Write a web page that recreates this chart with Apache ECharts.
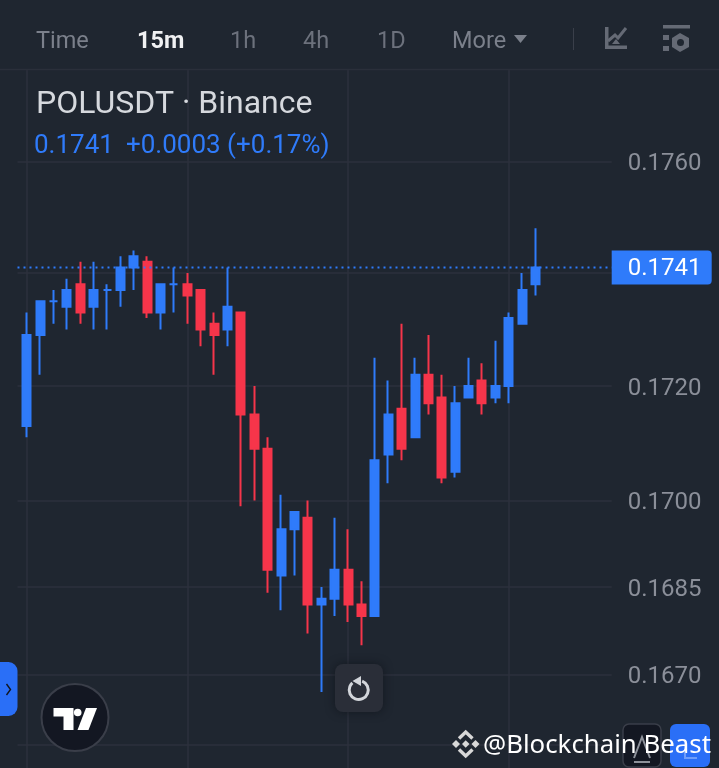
<!DOCTYPE html>
<html><head><meta charset="utf-8">
<style>html,body{margin:0;padding:0;background:#1f2630}#c{width:719px;height:768px}</style>
<script src="https://cdn.jsdelivr.net/npm/echarts@6/dist/echarts.min.js"></script>
</head><body><div id="c"></div>
<script>
const opens  = [.1713,.1729,.1735,.1734,.1738,.1734,.1737,.1737,.1741,.1742,.1733,.1738,.1738,.1737,.1731,.1730,.1733,.1715,.1709,.1687,.1695,.1697,.1682,.1683,.1688,.1682,.1680,.1708,.1716,.1711,.1722,.1718,.1705,.1718,.1721,.1718,.1720,.1731,.1738];
const closes = [.1729,.1735,.1735,.1737,.1733,.1737,.1737,.1741,.1743,.1733,.1738,.1738,.1736,.1730,.1729,.1734,.1715,.1709,.1688,.1695,.1698,.1682,.1683,.1688,.1682,.1680,.1707,.1715,.1709,.1722,.1717,.1704,.1717,.1720,.1717,.1720,.1732,.1737,.1741];
const lows   = [.1711,.1722,.1731,.1730,.1731,.1730,.1730,.1734,.1737,.1732,.1730,.1733,.1731,.1727,.1722,.1727,.1699,.1700,.1684,.1681,.1687,.1677,.1667,.1680,.1679,.1675,.1680,.1703,.1707,.1711,.1715,.1703,.1704,.1718,.1715,.1717,.1717,.1731,.1736];
const highs  = [.1733,.1735,.1737,.1739,.1742,.1742,.1738,.1743,.1744,.1743,.1738,.1741,.1740,.1737,.1733,.1741,.1733,.1720,.1711,.1701,.1698,.1700,.1685,.1697,.1695,.1686,.1725,.1721,.1731,.1725,.1729,.1722,.1720,.1725,.1724,.1728,.1733,.1740,.1748];
const priceTicks = ['0.1760','0.1720','0.1700','0.1685','0.1670'];
const gridPrices = [0.1760,0.1740,0.1720,0.1700,0.1685,0.1670,0.1658];
const lastPrice = 0.1741;
const timeGridIndexes = [0,12,24,36];
const tabs = [['Time',36,'#7b808b',400],['15m',137,'#f0f1f3',700],['1h',230,'#6c717c',400],['4h',303,'#6c717c',400],['1D',377,'#6c717c',400],['More',452,'#7b808b',400]];

const BLUE='#2f7bfa', RED='#f6354a', BG='#1f2630', GRID='#2c313c', FONT='Roboto, sans-serif';
const XMIN=-0.687, XMAX=43.69;
const candles = opens.map((o,i)=>[i,o,closes[i],lows[i],highs[i]]);
const gfx = [];
const txt=(t,x,y,size,fill,weight,font)=>gfx.push({type:'text',z:50,style:{text:t,x,y,fill,font:`${weight||400} ${size}px ${font||FONT}`,textVerticalAlign:'middle'}});
const poly=(pts,fill)=>gfx.push({type:'polygon',z:50,shape:{points:pts},style:{fill}});
const rect=(x,y,w,h,fill,r,stroke)=>gfx.push({type:'rect',z:50,shape:{x,y,width:w,height:h,r:r||0},style:{fill,stroke:stroke||null,lineWidth:stroke?1.5:0}});
const line=(pts,stroke,w,z)=>gfx.push({type:'polyline',z:z||50,shape:{points:pts},style:{stroke,lineWidth:w,fill:null}});

// header
rect(0,0,719,69,BG);
line([[0,69.5],[719,69.5]],'#2a2f3a',1.5);
tabs.forEach(t=>txt(t[0],t[1],42.5,23.5,t[2],t[3]));
poly([[514,35],[527,35],[520.5,43]],'#7b808b');
line([[573.5,28],[573.5,50]],'#3a3f4a',1);
// chart icon
const ic='#656a75';
rect(605,27,3.5,22,ic); rect(605,45.5,22,3.5,ic);
line([[608,41],[615,35],[618,38],[626,28]],ic,3);
poly([[612,44],[616,39],[620,44]],ic);
// settings icon
rect(663,25,27,3.5,ic); rect(663,35,6,5,ic); rect(663,46,6,5,ic);
poly([[680,33],[689,38],[689,47],[680,52],[672,47],[672,38]],ic);
gfx.push({type:'circle',z:51,shape:{cx:680.5,cy:42.5,r:3.5},style:{fill:BG}});
// legend
txt('POLUSDT · Binance',36,105,32,'#d6d9de',400);
txt('0.1741',34,146,26,BLUE,400);
txt('+0.0003 (+0.17%)',126,146,26,BLUE,400);
// left pill
rect(0,662,17.5,54,'#2a6ff7',[0,9,9,0]);
line([[6.5,684],[10.5,689.5],[6.5,695]],'#12161f',1.4);
// TV logo
gfx.push({type:'circle',z:50,shape:{cx:75,cy:717.5,r:33.5},style:{fill:'#131722',stroke:'#3a3e49',lineWidth:2}});
poly([[53.5,708],[73.5,708],[73.5,730],[63.5,730],[63.5,716.5],[53.5,716.5]],'#fff');
gfx.push({type:'circle',z:51,shape:{cx:77.7,cy:712.5,r:3.8},style:{fill:'#fff'}});
poly([[86,708],[97,708],[88.5,730],[77.5,730]],'#fff');
// reload button
gfx.push({type:'rect',z:50,shape:{x:335,y:664,width:48,height:48,r:8},style:{fill:'#2a2e38',shadowBlur:10,shadowColor:'rgba(10,12,18,.55)'}});
gfx.push({type:'arc',z:51,shape:{cx:358.7,cy:690,r:9.5,startAngle:-1.2,endAngle:-2.3,clockwise:true},style:{stroke:'#d2d5da',lineWidth:3,fill:null}});
poly([[361,676],[361,686],[352.5,681]],'#d2d5da');
// bottom right buttons
rect(623,724,38,43,'#131722',6,'#3a3e49');
rect(670,724,40,43,'#2a6ff7',6);
line([[634,758],[642,737],[650,758]],'#8d919a',2);
line([[634,762],[650,762]],'#8d919a',2);
line([[685,740],[685,758],[697,758]],'#6f9dfa',2);
// watermark
const wm='#d8d8d8';
poly([[452,744],[456,740],[460,744],[456,748]],wm);
poly([[471.5,744],[475.5,740],[479.5,744],[475.5,748]],wm);
poly([[462,744],[465.7,740.3],[469.5,744],[465.7,747.8]],wm);
line([[459,738.5],[465.7,732],[472.5,738.5]],wm,3.4);
line([[459,749.5],[465.7,756],[472.5,749.5]],wm,3.4);
txt('@Blockchain Beast',483,746,25.8,'#ffffff',400,'"Noto Sans", sans-serif');

const chart = echarts.init(document.getElementById('c'),null,{renderer:'canvas'});
chart.setOption({
  animation:false, backgroundColor:BG,
  grid:{left:17.5,top:69,right:107.3,bottom:0},
  xAxis:{type:'value',min:XMIN,max:XMAX,axisLine:{show:false},axisLabel:{show:false},
    axisTick:{show:false,customValues:timeGridIndexes},
    splitLine:{show:true,lineStyle:{color:GRID,width:1.5}}},
  yAxis:{type:'log',logBase:10,position:'right',min:0.16541,max:0.17767,axisLine:{show:false},
    axisTick:{show:false,customValues:gridPrices},
    axisLabel:{show:true,margin:16,customValues:priceTicks.map(Number),formatter:v=>Number(v).toFixed(4),color:'#8b8f99',fontSize:24,fontFamily:FONT,lineHeight:24,verticalAlign:'top',padding:[-9,0,0,0]},
    splitLine:{show:true,lineStyle:{color:GRID,width:1.5}}},
  series:[
   {type:'candlestick',data:candles,encode:{x:0,y:[1,2,3,4]},barWidth:8.5,z:3,
    itemStyle:{color:BLUE,color0:RED,borderColor:BLUE,borderColor0:RED,borderColorDoji:BLUE,borderWidth:2}},
   {type:'line',data:[[XMIN,lastPrice],[XMAX,lastPrice]],z:4,silent:true,symbol:'none',clip:false,
    lineStyle:{color:BLUE,width:2,type:[2,4]},
    endLabel:{show:true,distance:0,formatter:()=>'{a|'+lastPrice.toFixed(4)+'}',
      backgroundColor:BLUE,width:84,height:34,padding:[0,0,0,16],align:'left',borderRadius:[0,4,4,0],
      rich:{a:{color:'#fff',fontSize:24,fontFamily:FONT,lineHeight:24,padding:[13,0,0,0]}}}}
  ],
  graphic:{elements:gfx}
});
</script></body></html>
